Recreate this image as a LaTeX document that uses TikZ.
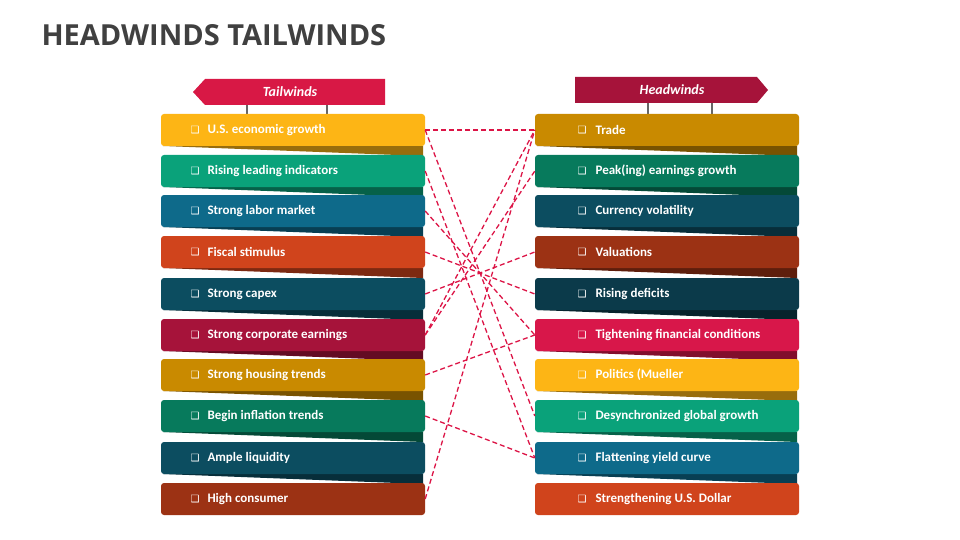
\documentclass[tikz,border=0pt]{standalone}
\usepackage{fontspec}
\setmainfont{Carlito}
\newfontfamily\titlefont{Open Sans}
\newfontfamily\symfont{DejaVu Sans}
\definecolor{cY}{HTML}{FDB515}\definecolor{cG}{HTML}{0AA27A}\definecolor{cB}{HTML}{0E6A8A}
\definecolor{cO}{HTML}{D0441C}\definecolor{cT}{HTML}{0C4D60}\definecolor{cC}{HTML}{A6133A}
\definecolor{cGo}{HTML}{C98A00}\definecolor{cDG}{HTML}{077A5C}\definecolor{cBr}{HTML}{9C3214}
\definecolor{cD}{HTML}{0B3A4A}\definecolor{cR}{HTML}{D8174A}\definecolor{cTitle}{HTML}{404040}
\definecolor{cLink}{HTML}{DC1446}\definecolor{cTW}{HTML}{D81845}
\begin{document}
\begin{tikzpicture}[x=1pt,y=-1pt,
  box/.style={rounded corners=3pt,minimum width=264pt,minimum height=32pt,inner sep=0pt},
  lbl/.style={text=white,font=\bfseries\fontsize{13}{14}\selectfont,anchor=west},
  chk/.style={text=white,font=\symfont\fontsize{10}{10}\selectfont,anchor=center},
  link/.style={draw=cLink,line width=1.3pt,dash pattern=on 5pt off 3pt}]
\useasboundingbox (0,0) rectangle (960,540);
\node[anchor=west,font=\titlefont\bfseries\fontsize{29}{30}\selectfont,text=cTitle] (title) at (38,35) {HEADWINDS TAILWINDS};
% stems
\draw[gray!80!black,line width=2.5pt] (247,100)--(247,116) (327,100)--(327,116) (648,100)--(648,116) (712,100)--(712,116);
% headers
\fill[cTW] (385,79)--(205,79)--(193,92)--(205,105)--(385,105)--cycle;
\node[text=white,font=\bfseries\itshape\fontsize{14}{15}\selectfont] (tw) at (290,92) {Tailwinds};
\fill[cC] (575,77)--(757,77)--(768,90)--(757,103)--(575,103)--cycle;
\node[text=white,font=\bfseries\itshape\fontsize{14}{15}\selectfont] (hw) at (672,90) {Headwinds};
% boxes
\foreach \y/\c/\t [count=\i] in {130/cY/U.S. economic growth,171/cG/Rising leading indicators,211/cB/Strong labor market,252/cO/Fiscal stimulus,294/cT/Strong capex,335/cC/Strong corporate earnings,375/cGo/Strong housing trends,416/cDG/Begin inflation trends,458/cT/Ample liquidity,499/cBr/High consumer/ business confidence}{
  \ifnum\i<10 \fill[\c!60!black] (163,\y+16)--(423,\y+16)--(423,\y+26)--cycle;\fi
  \node[box,fill=\c] (L\i) at (293,\y) {};
  \node[chk] (lc\i) at (195,\y) {❑};
  \node[lbl] (lt\i) at (204,\y) {\t};
}
\foreach \y/\c/\t [count=\i] in {130/cGo/Trade/ tariffs /protectionism,171/cDG/Peak(ing) earnings growth,211/cT/Currency volatility,252/cBr/Valuations,294/cD/Rising deficits /debt,335/cR/Tightening financial conditions,375/cY/Politics (Mueller /midterms),416/cG/Desynchronized global growth,458/cB/Flattening yield curve,499/cO/Strengthening U.S. Dollar}{
  \ifnum\i<10 \fill[\c!60!black] (537,\y+16)--(797,\y+16)--(797,\y+26)--cycle;\fi
  \node[box,fill=\c] (R\i) at (667,\y) {};
  \node[chk] (rc\i) at (582,\y) {❑};
  \node[lbl] (rt\i) at (592,\y) {\t};
}
% links
\foreach \a/\b in {1/1,1/8,2/9,3/6,4/5,5/4,6/1,6/2,7/6,8/9,10/1}
  \draw[link] (L\a.east)--(R\b.west);
\end{tikzpicture}
\end{document}
